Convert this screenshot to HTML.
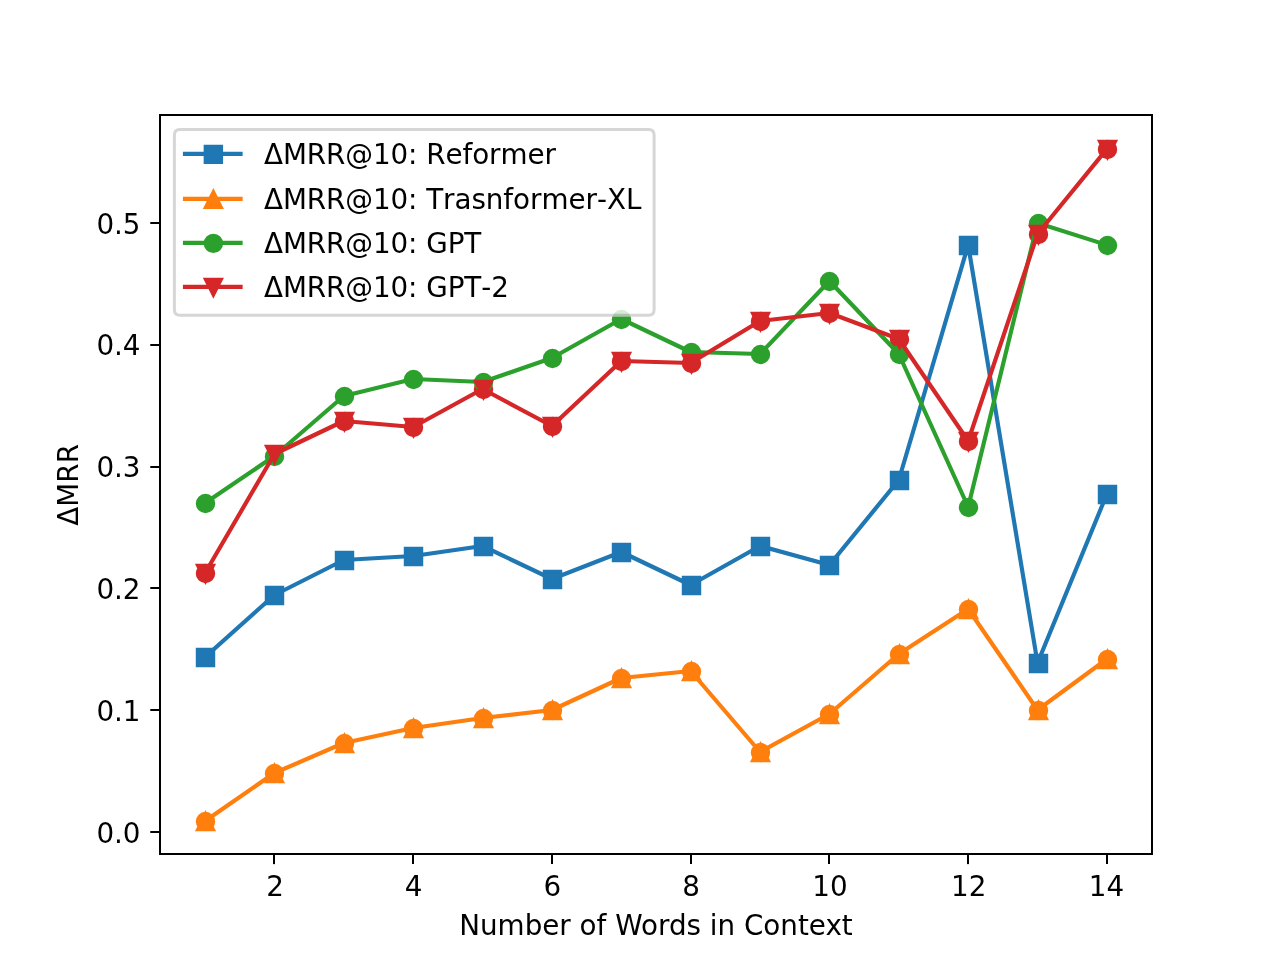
<!DOCTYPE html>
<html lang="en"><head><meta charset="utf-8"><title>ΔMRR vs Number of Words in Context</title>
<style>html,body{margin:0;padding:0;background:#fff;}body{width:1280px;height:960px;overflow:hidden;}svg{display:block;}</style></head>
<body>
<svg width="1280" height="960" viewBox="0 0 460.8 345.6" role="img" aria-label="Line chart of ΔMRR versus number of words in context">
 
 <defs>
  <style type="text/css">*{stroke-linejoin: round; stroke-linecap: butt}</style>
 </defs>
 <g id="figure_1">
  <g id="patch_1">
   <path d="M 0 345.6 
L 460.8 345.6 
L 460.8 0 
L 0 0 
z
" style="fill: #ffffff"/>
  </g>
  <g id="axes_1">
   <g id="patch_2">
    <path d="M 57.6 307.584 
L 414.72 307.584 
L 414.72 41.472 
L 57.6 41.472 
z
" style="fill: #ffffff"/>
   </g>
   <g id="line2d_1">
    <defs>
     <path id="mcd47077251" d="M 0 3 
C 0.795609 3 1.55874 2.683901 2.12132 2.12132 
C 2.683901 1.55874 3 0.795609 3 0 
C 3 -0.795609 2.683901 -1.55874 2.12132 -2.12132 
C 1.55874 -2.683901 0.795609 -3 0 -3 
C -0.795609 -3 -1.55874 -2.683901 -2.12132 -2.12132 
C -2.683901 -1.55874 -3 -0.795609 -3 0 
C -3 0.795609 -2.683901 1.55874 -2.12132 2.12132 
C -1.55874 2.683901 -0.795609 3 0 3 
z
" style="stroke: #ff7f0e"/>
    </defs>
    <g clip-path="url(#p02d3b5d28d)">
     <use href="#mcd47077251" x="73.98" y="295.74" style="fill: #ff7f0e; stroke: #ff7f0e"/>
     <use href="#mcd47077251" x="98.82" y="278.46" style="fill: #ff7f0e; stroke: #ff7f0e"/>
     <use href="#mcd47077251" x="124.02" y="267.66" style="fill: #ff7f0e; stroke: #ff7f0e"/>
     <use href="#mcd47077251" x="148.86" y="262.26" style="fill: #ff7f0e; stroke: #ff7f0e"/>
     <use href="#mcd47077251" x="174.06" y="258.66" style="fill: #ff7f0e; stroke: #ff7f0e"/>
     <use href="#mcd47077251" x="198.9" y="255.78" style="fill: #ff7f0e; stroke: #ff7f0e"/>
     <use href="#mcd47077251" x="223.74" y="244.26" style="fill: #ff7f0e; stroke: #ff7f0e"/>
     <use href="#mcd47077251" x="248.94" y="241.74" style="fill: #ff7f0e; stroke: #ff7f0e"/>
     <use href="#mcd47077251" x="273.78" y="270.9" style="fill: #ff7f0e; stroke: #ff7f0e"/>
     <use href="#mcd47077251" x="298.62" y="257.22" style="fill: #ff7f0e; stroke: #ff7f0e"/>
     <use href="#mcd47077251" x="323.82" y="235.62" style="fill: #ff7f0e; stroke: #ff7f0e"/>
     <use href="#mcd47077251" x="348.66" y="219.42" style="fill: #ff7f0e; stroke: #ff7f0e"/>
     <use href="#mcd47077251" x="373.86" y="255.78" style="fill: #ff7f0e; stroke: #ff7f0e"/>
     <use href="#mcd47077251" x="398.7" y="237.42" style="fill: #ff7f0e; stroke: #ff7f0e"/>
    </g>
   </g>
   <g id="line2d_2">
    <defs>
     <path id="maca9aefc6d" d="M 0 3 
C 0.795609 3 1.55874 2.683901 2.12132 2.12132 
C 2.683901 1.55874 3 0.795609 3 0 
C 3 -0.795609 2.683901 -1.55874 2.12132 -2.12132 
C 1.55874 -2.683901 0.795609 -3 0 -3 
C -0.795609 -3 -1.55874 -2.683901 -2.12132 -2.12132 
C -2.683901 -1.55874 -3 -0.795609 -3 0 
C -3 0.795609 -2.683901 1.55874 -2.12132 2.12132 
C -1.55874 2.683901 -0.795609 3 0 3 
z
" style="stroke: #d62728"/>
    </defs>
    <g clip-path="url(#p02d3b5d28d)">
     <use href="#maca9aefc6d" x="73.98" y="206.46" style="fill: #d62728; stroke: #d62728"/>
     <use href="#maca9aefc6d" x="124.02" y="151.74" style="fill: #d62728; stroke: #d62728"/>
     <use href="#maca9aefc6d" x="148.86" y="153.9" style="fill: #d62728; stroke: #d62728"/>
     <use href="#maca9aefc6d" x="174.06" y="140.22" style="fill: #d62728; stroke: #d62728"/>
     <use href="#maca9aefc6d" x="198.9" y="153.54" style="fill: #d62728; stroke: #d62728"/>
     <use href="#maca9aefc6d" x="223.74" y="130.14" style="fill: #d62728; stroke: #d62728"/>
     <use href="#maca9aefc6d" x="248.94" y="130.86" style="fill: #d62728; stroke: #d62728"/>
     <use href="#maca9aefc6d" x="273.78" y="115.74" style="fill: #d62728; stroke: #d62728"/>
     <use href="#maca9aefc6d" x="298.62" y="112.86" style="fill: #d62728; stroke: #d62728"/>
     <use href="#maca9aefc6d" x="323.82" y="122.22" style="fill: #d62728; stroke: #d62728"/>
     <use href="#maca9aefc6d" x="348.66" y="158.94" style="fill: #d62728; stroke: #d62728"/>
     <use href="#maca9aefc6d" x="373.86" y="84.42" style="fill: #d62728; stroke: #d62728"/>
     <use href="#maca9aefc6d" x="398.7" y="53.82" style="fill: #d62728; stroke: #d62728"/>
    </g>
   </g>
   <g id="matplotlib.axis_1">
    <g id="xtick_1">
     <g id="line2d_3">
      <defs>
       <path id="m1504cfccaf" d="M 0 0 
L 0 3.5 
" style="stroke: #000000; stroke-width: 0.72"/>
      </defs>
      <g>
       <use href="#m1504cfccaf" x="98.6400" y="307.5840" style="stroke: #000000; stroke-width: 0.72"/>
      </g>
     </g>
     <g id="text_1">
      <text style="font-size: 10px; font-family: 'DejaVu Sans', sans-serif; text-anchor: middle" x="98.986" y="322.578">2</text>
     </g>
    </g>
    <g id="xtick_2">
     <g id="line2d_4">
      <g>
       <use href="#m1504cfccaf" x="148.6800" y="307.5840" style="stroke: #000000; stroke-width: 0.72"/>
      </g>
     </g>
     <g id="text_2">
      <text style="font-size: 10px; font-family: 'DejaVu Sans', sans-serif; text-anchor: middle" x="148.933" y="322.578">4</text>
     </g>
    </g>
    <g id="xtick_3">
     <g id="line2d_5">
      <g>
       <use href="#m1504cfccaf" x="198.7200" y="307.5840" style="stroke: #000000; stroke-width: 0.72"/>
      </g>
     </g>
     <g id="text_3">
      <text style="font-size: 10px; font-family: 'DejaVu Sans', sans-serif; text-anchor: middle" x="198.880" y="322.578">6</text>
     </g>
    </g>
    <g id="xtick_4">
     <g id="line2d_6">
      <g>
       <use href="#m1504cfccaf" x="248.7600" y="307.5840" style="stroke: #000000; stroke-width: 0.72"/>
      </g>
     </g>
     <g id="text_4">
      <text style="font-size: 10px; font-family: 'DejaVu Sans', sans-serif; text-anchor: middle" x="248.827" y="322.578">8</text>
     </g>
    </g>
    <g id="xtick_5">
     <g id="line2d_7">
      <g>
       <use href="#m1504cfccaf" x="298.4400" y="307.5840" style="stroke: #000000; stroke-width: 0.72"/>
      </g>
     </g>
     <g id="text_5">
      <text style="font-size: 10px; font-family: 'DejaVu Sans', sans-serif; text-anchor: middle" x="298.774" y="322.578">10</text>
     </g>
    </g>
    <g id="xtick_6">
     <g id="line2d_8">
      <g>
       <use href="#m1504cfccaf" x="348.4800" y="307.5840" style="stroke: #000000; stroke-width: 0.72"/>
      </g>
     </g>
     <g id="text_6">
      <text style="font-size: 10px; font-family: 'DejaVu Sans', sans-serif; text-anchor: middle" x="348.720" y="322.578">12</text>
     </g>
    </g>
    <g id="xtick_7">
     <g id="line2d_9">
      <g>
       <use href="#m1504cfccaf" x="398.5200" y="307.5840" style="stroke: #000000; stroke-width: 0.72"/>
      </g>
     </g>
     <g id="text_7">
      <text style="font-size: 10px; font-family: 'DejaVu Sans', sans-serif; text-anchor: middle" x="398.343" y="322.578">14</text>
     </g>
    </g>
    <g id="text_8">
     <text style="font-size: 10px; font-family: 'DejaVu Sans', sans-serif; text-anchor: middle" x="236.160" y="336.581">Number of Words in Context</text>
    </g>
   </g>
   <g id="matplotlib.axis_2">
    <g id="ytick_1">
     <g id="line2d_10">
      <defs>
       <path id="m5d545ce8f8" d="M 0 0 
L -3.5 0 
" style="stroke: #000000; stroke-width: 0.72"/>
      </defs>
      <g>
       <use href="#m5d545ce8f8" x="57.6000" y="299.5200" style="stroke: #000000; stroke-width: 0.72"/>
      </g>
     </g>
     <g id="text_9">
      <text style="font-size: 10px; font-family: 'DejaVu Sans', sans-serif; text-anchor: end" x="50.600" y="303.319">0.0</text>
     </g>
    </g>
    <g id="ytick_2">
     <g id="line2d_11">
      <g>
       <use href="#m5d545ce8f8" x="57.6000" y="255.6000" style="stroke: #000000; stroke-width: 0.72"/>
      </g>
     </g>
     <g id="text_10">
      <text style="font-size: 10px; font-family: 'DejaVu Sans', sans-serif; text-anchor: end" x="50.600" y="259.471">0.1</text>
     </g>
    </g>
    <g id="ytick_3">
     <g id="line2d_12">
      <g>
       <use href="#m5d545ce8f8" x="57.6000" y="211.6800" style="stroke: #000000; stroke-width: 0.72"/>
      </g>
     </g>
     <g id="text_11">
      <text style="font-size: 10px; font-family: 'DejaVu Sans', sans-serif; text-anchor: end" x="50.600" y="215.623">0.2</text>
     </g>
    </g>
    <g id="ytick_4">
     <g id="line2d_13">
      <g>
       <use href="#m5d545ce8f8" x="57.6000" y="168.1200" style="stroke: #000000; stroke-width: 0.72"/>
      </g>
     </g>
     <g id="text_12">
      <text style="font-size: 10px; font-family: 'DejaVu Sans', sans-serif; text-anchor: end" x="50.600" y="171.775">0.3</text>
     </g>
    </g>
    <g id="ytick_5">
     <g id="line2d_14">
      <g>
       <use href="#m5d545ce8f8" x="57.6000" y="124.2000" style="stroke: #000000; stroke-width: 0.72"/>
      </g>
     </g>
     <g id="text_13">
      <text style="font-size: 10px; font-family: 'DejaVu Sans', sans-serif; text-anchor: end" x="50.600" y="127.927">0.4</text>
     </g>
    </g>
    <g id="ytick_6">
     <g id="line2d_15">
      <g>
       <use href="#m5d545ce8f8" x="57.6000" y="80.2800" style="stroke: #000000; stroke-width: 0.72"/>
      </g>
     </g>
     <g id="text_14">
      <text style="font-size: 10px; font-family: 'DejaVu Sans', sans-serif; text-anchor: end" x="50.600" y="84.079">0.5</text>
     </g>
    </g>
    <g id="text_15">
     <g transform="translate(28.617187 189.228) rotate(-90)">
      <text style="font-size: 10px; font-family: 'DejaVu Sans', sans-serif" x="0 6.841 15.469 22.417" y="-0.703125">ΔMRR</text>
     </g>
    </g>
   </g>
   <g id="line2d_16">
    <path d="M 73.832727 236.52 
L 98.806154 214.2 
L 123.77958 201.6 
L 148.753007 200.16 
L 173.726434 196.56 
L 198.69986 208.44 
L 223.673287 198.72 
L 248.646713 210.6 
L 273.62014 196.56 
L 298.593566 203.4 
L 323.566993 172.8 
L 348.54042 88.2 
L 373.513846 238.68 
L 398.487273 177.84 
" clip-path="url(#p02d3b5d28d)" style="fill: none; stroke: #1f77b4; stroke-width: 1.5; stroke-linecap: square"/>
   </g>
   <g id="line2d_17">
    <defs>
     <path id="m4452cb8900" d="M -3 3 
L 3 3 
L 3 -3 
L -3 -3 
z
" style="stroke: #1f77b4; stroke-linejoin: miter"/>
    </defs>
    <g clip-path="url(#p02d3b5d28d)">
     <use href="#m4452cb8900" x="73.98" y="236.7" style="fill: #1f77b4; stroke: #1f77b4; stroke-linejoin: miter"/>
     <use href="#m4452cb8900" x="98.82" y="214.38" style="fill: #1f77b4; stroke: #1f77b4; stroke-linejoin: miter"/>
     <use href="#m4452cb8900" x="124.02" y="201.78" style="fill: #1f77b4; stroke: #1f77b4; stroke-linejoin: miter"/>
     <use href="#m4452cb8900" x="148.86" y="200.34" style="fill: #1f77b4; stroke: #1f77b4; stroke-linejoin: miter"/>
     <use href="#m4452cb8900" x="174.06" y="196.74" style="fill: #1f77b4; stroke: #1f77b4; stroke-linejoin: miter"/>
     <use href="#m4452cb8900" x="198.9" y="208.62" style="fill: #1f77b4; stroke: #1f77b4; stroke-linejoin: miter"/>
     <use href="#m4452cb8900" x="223.74" y="198.9" style="fill: #1f77b4; stroke: #1f77b4; stroke-linejoin: miter"/>
     <use href="#m4452cb8900" x="248.94" y="210.78" style="fill: #1f77b4; stroke: #1f77b4; stroke-linejoin: miter"/>
     <use href="#m4452cb8900" x="273.78" y="196.74" style="fill: #1f77b4; stroke: #1f77b4; stroke-linejoin: miter"/>
     <use href="#m4452cb8900" x="298.62" y="203.58" style="fill: #1f77b4; stroke: #1f77b4; stroke-linejoin: miter"/>
     <use href="#m4452cb8900" x="323.82" y="172.98" style="fill: #1f77b4; stroke: #1f77b4; stroke-linejoin: miter"/>
     <use href="#m4452cb8900" x="348.66" y="88.38" style="fill: #1f77b4; stroke: #1f77b4; stroke-linejoin: miter"/>
     <use href="#m4452cb8900" x="373.86" y="238.86" style="fill: #1f77b4; stroke: #1f77b4; stroke-linejoin: miter"/>
     <use href="#m4452cb8900" x="398.7" y="178.02" style="fill: #1f77b4; stroke: #1f77b4; stroke-linejoin: miter"/>
    </g>
   </g>
   <g id="line2d_18">
    <path d="M 73.832727 295.56 
L 98.806154 278.28 
L 123.77958 267.48 
L 148.753007 262.08 
L 173.726434 258.48 
L 198.69986 255.6 
L 223.673287 244.08 
L 248.646713 241.56 
L 273.62014 270.72 
L 298.593566 257.04 
L 323.566993 235.44 
L 348.54042 219.24 
L 373.513846 255.6 
L 398.487273 237.24 
" clip-path="url(#p02d3b5d28d)" style="fill: none; stroke: #ff7f0e; stroke-width: 1.5; stroke-linecap: square"/>
   </g>
   <g id="line2d_19">
    <defs>
     <path id="ma995aa5aff" d="M 0 -3 
L -3 3 
L 3 3 
z
" style="stroke: #ff7f0e; stroke-linejoin: miter"/>
    </defs>
    <g clip-path="url(#p02d3b5d28d)">
     <use href="#ma995aa5aff" x="73.98" y="295.74" style="fill: #ff7f0e; stroke: #ff7f0e; stroke-linejoin: miter"/>
     <use href="#ma995aa5aff" x="98.82" y="278.46" style="fill: #ff7f0e; stroke: #ff7f0e; stroke-linejoin: miter"/>
     <use href="#ma995aa5aff" x="124.02" y="267.66" style="fill: #ff7f0e; stroke: #ff7f0e; stroke-linejoin: miter"/>
     <use href="#ma995aa5aff" x="148.86" y="262.26" style="fill: #ff7f0e; stroke: #ff7f0e; stroke-linejoin: miter"/>
     <use href="#ma995aa5aff" x="174.06" y="258.66" style="fill: #ff7f0e; stroke: #ff7f0e; stroke-linejoin: miter"/>
     <use href="#ma995aa5aff" x="198.9" y="255.78" style="fill: #ff7f0e; stroke: #ff7f0e; stroke-linejoin: miter"/>
     <use href="#ma995aa5aff" x="223.74" y="244.26" style="fill: #ff7f0e; stroke: #ff7f0e; stroke-linejoin: miter"/>
     <use href="#ma995aa5aff" x="248.94" y="241.74" style="fill: #ff7f0e; stroke: #ff7f0e; stroke-linejoin: miter"/>
     <use href="#ma995aa5aff" x="273.78" y="270.9" style="fill: #ff7f0e; stroke: #ff7f0e; stroke-linejoin: miter"/>
     <use href="#ma995aa5aff" x="298.62" y="257.22" style="fill: #ff7f0e; stroke: #ff7f0e; stroke-linejoin: miter"/>
     <use href="#ma995aa5aff" x="323.82" y="235.62" style="fill: #ff7f0e; stroke: #ff7f0e; stroke-linejoin: miter"/>
     <use href="#ma995aa5aff" x="348.66" y="219.42" style="fill: #ff7f0e; stroke: #ff7f0e; stroke-linejoin: miter"/>
     <use href="#ma995aa5aff" x="373.86" y="255.78" style="fill: #ff7f0e; stroke: #ff7f0e; stroke-linejoin: miter"/>
     <use href="#ma995aa5aff" x="398.7" y="237.42" style="fill: #ff7f0e; stroke: #ff7f0e; stroke-linejoin: miter"/>
    </g>
   </g>
   <g id="line2d_20">
    <path d="M 73.832727 181.08 
L 98.806154 164.16 
L 123.77958 142.56 
L 148.753007 136.44 
L 173.726434 137.52 
L 198.69986 128.88 
L 223.673287 114.84 
L 248.646713 126.72 
L 273.62014 127.44 
L 298.593566 101.16 
L 323.566993 127.44 
L 348.54042 182.52 
L 373.513846 80.28 
L 398.487273 88.2 
" clip-path="url(#p02d3b5d28d)" style="fill: none; stroke: #2ca02c; stroke-width: 1.5; stroke-linecap: square"/>
   </g>
   <g id="line2d_21">
    <defs>
     <path id="m8c89868a1a" d="M 0 3 
C 0.795609 3 1.55874 2.683901 2.12132 2.12132 
C 2.683901 1.55874 3 0.795609 3 0 
C 3 -0.795609 2.683901 -1.55874 2.12132 -2.12132 
C 1.55874 -2.683901 0.795609 -3 0 -3 
C -0.795609 -3 -1.55874 -2.683901 -2.12132 -2.12132 
C -2.683901 -1.55874 -3 -0.795609 -3 0 
C -3 0.795609 -2.683901 1.55874 -2.12132 2.12132 
C -1.55874 2.683901 -0.795609 3 0 3 
z
" style="stroke: #2ca02c"/>
    </defs>
    <g clip-path="url(#p02d3b5d28d)">
     <use href="#m8c89868a1a" x="73.98" y="181.26" style="fill: #2ca02c; stroke: #2ca02c"/>
     <use href="#m8c89868a1a" x="98.82" y="164.34" style="fill: #2ca02c; stroke: #2ca02c"/>
     <use href="#m8c89868a1a" x="124.02" y="142.74" style="fill: #2ca02c; stroke: #2ca02c"/>
     <use href="#m8c89868a1a" x="148.86" y="136.62" style="fill: #2ca02c; stroke: #2ca02c"/>
     <use href="#m8c89868a1a" x="174.06" y="137.7" style="fill: #2ca02c; stroke: #2ca02c"/>
     <use href="#m8c89868a1a" x="198.9" y="129.06" style="fill: #2ca02c; stroke: #2ca02c"/>
     <use href="#m8c89868a1a" x="223.74" y="115.02" style="fill: #2ca02c; stroke: #2ca02c"/>
     <use href="#m8c89868a1a" x="248.94" y="126.9" style="fill: #2ca02c; stroke: #2ca02c"/>
     <use href="#m8c89868a1a" x="273.78" y="127.62" style="fill: #2ca02c; stroke: #2ca02c"/>
     <use href="#m8c89868a1a" x="298.62" y="101.34" style="fill: #2ca02c; stroke: #2ca02c"/>
     <use href="#m8c89868a1a" x="323.82" y="127.62" style="fill: #2ca02c; stroke: #2ca02c"/>
     <use href="#m8c89868a1a" x="348.66" y="182.7" style="fill: #2ca02c; stroke: #2ca02c"/>
     <use href="#m8c89868a1a" x="373.86" y="80.46" style="fill: #2ca02c; stroke: #2ca02c"/>
     <use href="#m8c89868a1a" x="398.7" y="88.38" style="fill: #2ca02c; stroke: #2ca02c"/>
    </g>
   </g>
   <g id="line2d_22">
    <path d="M 73.832727 206.28 
L 98.806154 163.44 
L 123.77958 151.56 
L 148.753007 153.72 
L 173.726434 140.04 
L 198.69986 153.36 
L 223.673287 129.96 
L 248.646713 130.68 
L 273.62014 115.56 
L 298.593566 112.68 
L 323.566993 122.04 
L 348.54042 158.76 
L 373.513846 84.24 
L 398.487273 53.64 
" clip-path="url(#p02d3b5d28d)" style="fill: none; stroke: #d62728; stroke-width: 1.5; stroke-linecap: square"/>
   </g>
   <g id="line2d_23">
    <defs>
     <path id="m6a8d64e03f" d="M -0 3 
L 3 -3 
L -3 -3 
z
" style="stroke: #d62728; stroke-linejoin: miter"/>
    </defs>
    <g clip-path="url(#p02d3b5d28d)">
     <use href="#m6a8d64e03f" x="73.98" y="206.46" style="fill: #d62728; stroke: #d62728; stroke-linejoin: miter"/>
     <use href="#m6a8d64e03f" x="98.82" y="163.62" style="fill: #d62728; stroke: #d62728; stroke-linejoin: miter"/>
     <use href="#m6a8d64e03f" x="124.02" y="151.74" style="fill: #d62728; stroke: #d62728; stroke-linejoin: miter"/>
     <use href="#m6a8d64e03f" x="148.86" y="153.9" style="fill: #d62728; stroke: #d62728; stroke-linejoin: miter"/>
     <use href="#m6a8d64e03f" x="174.06" y="140.22" style="fill: #d62728; stroke: #d62728; stroke-linejoin: miter"/>
     <use href="#m6a8d64e03f" x="198.9" y="153.54" style="fill: #d62728; stroke: #d62728; stroke-linejoin: miter"/>
     <use href="#m6a8d64e03f" x="223.74" y="130.14" style="fill: #d62728; stroke: #d62728; stroke-linejoin: miter"/>
     <use href="#m6a8d64e03f" x="248.94" y="130.86" style="fill: #d62728; stroke: #d62728; stroke-linejoin: miter"/>
     <use href="#m6a8d64e03f" x="273.78" y="115.74" style="fill: #d62728; stroke: #d62728; stroke-linejoin: miter"/>
     <use href="#m6a8d64e03f" x="298.62" y="112.86" style="fill: #d62728; stroke: #d62728; stroke-linejoin: miter"/>
     <use href="#m6a8d64e03f" x="323.82" y="122.22" style="fill: #d62728; stroke: #d62728; stroke-linejoin: miter"/>
     <use href="#m6a8d64e03f" x="348.66" y="158.94" style="fill: #d62728; stroke: #d62728; stroke-linejoin: miter"/>
     <use href="#m6a8d64e03f" x="373.86" y="84.42" style="fill: #d62728; stroke: #d62728; stroke-linejoin: miter"/>
     <use href="#m6a8d64e03f" x="398.7" y="53.82" style="fill: #d62728; stroke: #d62728; stroke-linejoin: miter"/>
    </g>
   </g>
   <g id="patch_3">
    <path d="M 57.6 307.44 
L 57.6 41.4 
" style="fill: none; stroke: #000000; stroke-width: 0.72; stroke-linejoin: miter; stroke-linecap: square"/>
   </g>
   <g id="patch_4">
    <path d="M 414.72 307.44 
L 414.72 41.4 
" style="fill: none; stroke: #000000; stroke-width: 0.72; stroke-linejoin: miter; stroke-linecap: square"/>
   </g>
   <g id="patch_5">
    <path d="M 57.6 307.44 
L 414.72 307.44 
" style="fill: none; stroke: #000000; stroke-width: 0.72; stroke-linejoin: miter; stroke-linecap: square"/>
   </g>
   <g id="patch_6">
    <path d="M 57.6 41.4 
L 414.72 41.4 
" style="fill: none; stroke: #000000; stroke-width: 0.72; stroke-linejoin: miter; stroke-linecap: square"/>
   </g>
   <g id="legend_1">
<path d="M 64.784 113.508 L 233.476 113.508 Q 235.476 113.508 235.476 111.508 L 235.476 48.620 Q 235.476 46.620 233.476 46.620 L 64.784 46.620 Q 62.784 46.620 62.784 48.620 L 62.784 111.508 Q 62.784 113.508 64.784 113.508 z" style="fill: #ffffff; opacity: 0.8; stroke: #cccccc; stroke-width: 1.08; stroke-linejoin: miter"/>
<path d="M 66.600 55.404 L 86.600 55.404" style="fill: none; stroke: #1f77b4; stroke-width: 1.5; stroke-linecap: square"/>
<path d="M -3 3 L 3 3 L 3 -3 L -3 -3 z" transform="translate(76.816 55.584)" style="fill: #1f77b4; stroke: #1f77b4; stroke-linejoin: miter"/>
<g transform="translate(94.600 58.904)"><text style="font-size: 10px; font-family: 'DejaVu Sans', sans-serif" x="0.468 7.278 15.868 22.785 29.701 39.657 45.991 52.324 55.678 58.843 65.76 71.884 75.39 81.48 85.573 95.27 101.396" y="0">ΔMRR@10: Reformer</text></g>
<path d="M 66.600 71.604 L 86.600 71.604" style="fill: none; stroke: #ff7f0e; stroke-width: 1.5; stroke-linecap: square"/>
<path d="M 0 -3 L -3 3 L 3 3 z" transform="translate(76.816 71.784)" style="fill: #ff7f0e; stroke: #ff7f0e; stroke-linejoin: miter"/>
<g transform="translate(94.600 75.104)"><text style="font-size: 10px; font-family: 'DejaVu Sans', sans-serif" x="0.468 7.278 15.868 22.785 29.701 39.657 45.991 52.324 55.678 58.843 64.924 69.016 75.117 80.304 86.613 90.118 96.209 100.301 110.024 116.177 120.288 123.896 130.747" y="0">ΔMRR@10: Trasnformer-XL</text></g>
<path d="M 66.600 87.444 L 86.600 87.444" style="fill: none; stroke: #2ca02c; stroke-width: 1.5; stroke-linecap: square"/>
<circle r="3" transform="translate(76.816 87.624)" style="fill: #2ca02c; stroke: #2ca02c; stroke-linejoin: miter"/>
<g transform="translate(94.600 90.944)"><text style="font-size: 10px; font-family: 'DejaVu Sans', sans-serif" x="0.468 7.278 15.868 22.785 29.701 39.657 45.991 52.324 55.678 58.843 66.557 72.56" y="0">ΔMRR@10: GPT</text></g>
<path d="M 66.600 103.284 L 86.600 103.284" style="fill: none; stroke: #d62728; stroke-width: 1.5; stroke-linecap: square"/>
<path d="M 0 3 L -3 -3 L 3 -3 z" transform="translate(76.816 103.464)" style="fill: #d62728; stroke: #d62728; stroke-linejoin: miter"/>
<g transform="translate(94.600 106.784)"><text style="font-size: 10px; font-family: 'DejaVu Sans', sans-serif" x="0.468 7.278 15.868 22.785 29.701 39.657 45.991 52.324 55.678 58.843 66.557 72.56 78.641 82.234" y="0">ΔMRR@10: GPT-2</text></g>
</g>
  </g>
 </g>
 <defs>
  <clipPath id="p02d3b5d28d">
   <rect x="57.6" y="41.472" width="357.12" height="266.112"/>
  </clipPath>
 </defs>
</svg>

</body></html>
